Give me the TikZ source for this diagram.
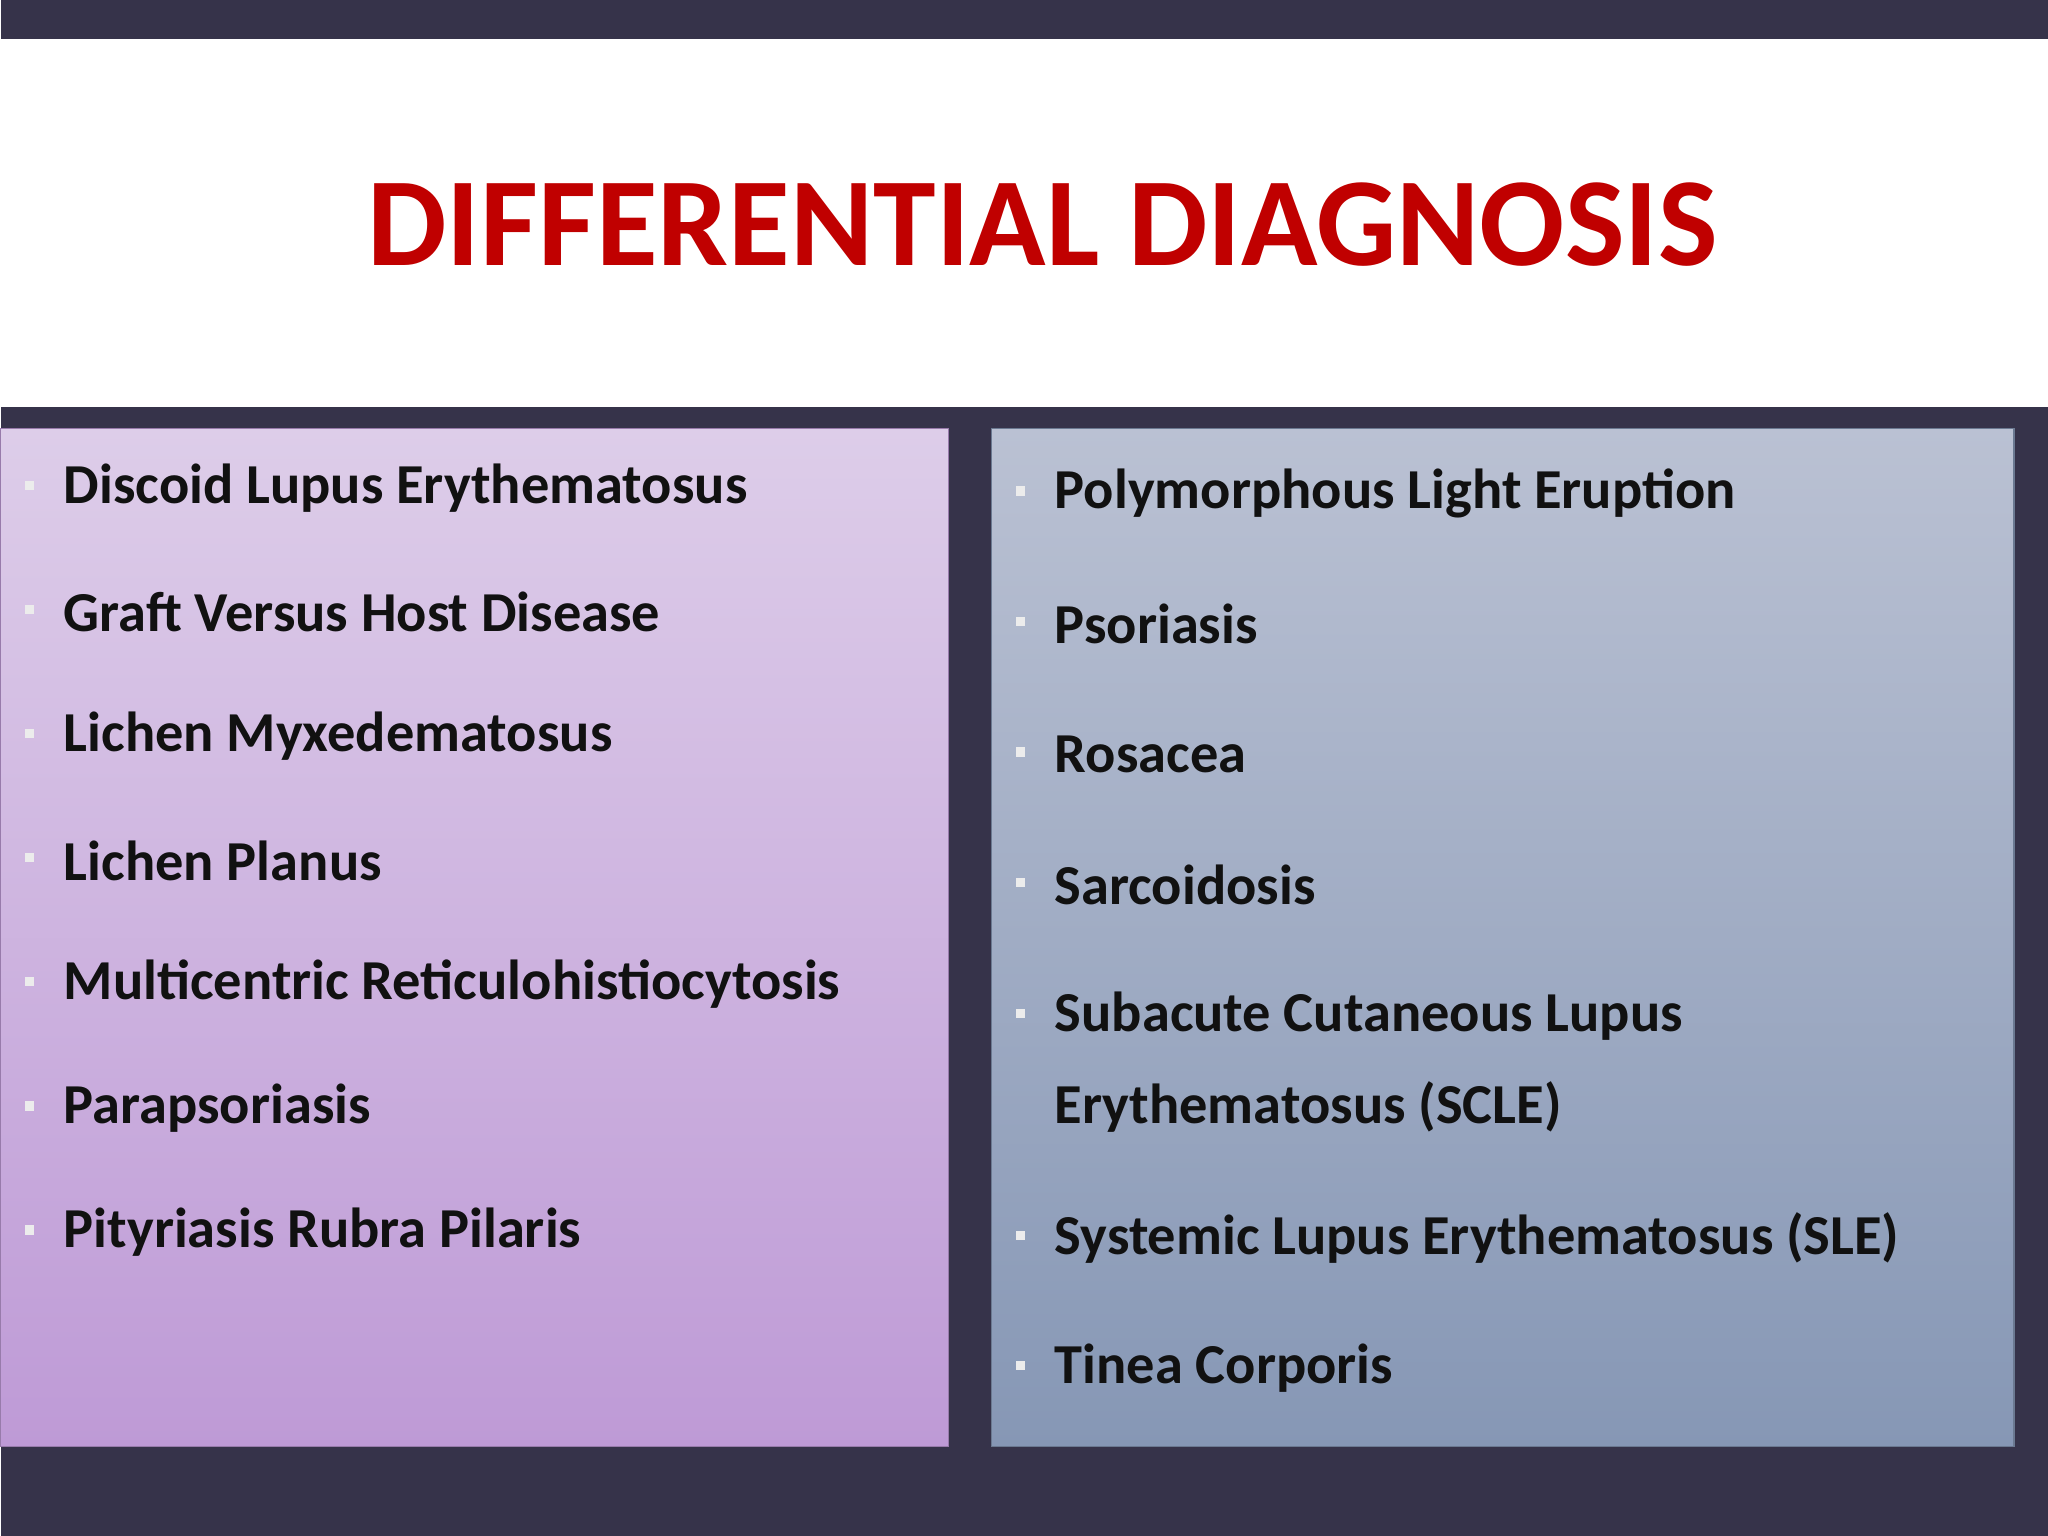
\documentclass[tikz,border=0pt]{standalone}
\usepackage{fontspec}
\setmainfont{Carlito}
\definecolor{dark}{HTML}{36334A}
\definecolor{ttl}{HTML}{C00000}
\definecolor{ltop}{HTML}{DDCDE9}
\definecolor{lbot}{HTML}{BE9AD6}
\definecolor{rtop}{HTML}{BAC1D3}
\definecolor{rbot}{HTML}{8697B5}
\definecolor{txt}{HTML}{111111}
\begin{document}
\begin{tikzpicture}[x=0.02cm,y=-0.02cm,
  item/.style={anchor=west,inner sep=0pt,font=\fontsize{24.6}{28}\selectfont\bfseries,text=txt},
  bul/.style={fill=white!85!gray,minimum size=4pt,inner sep=0pt}]
\fill[dark] (0,0) rectangle (1568,1176);
\fill[white] (0,30) rectangle (1568,312);
\node[font=\fontsize{55}{60}\selectfont\bfseries,text=ttl] (title) at (798,172) {DIFFERENTIAL DIAGNOSIS};
\shade[top color=ltop,bottom color=lbot,draw=lbot!80!black,line width=0.6pt] (0,328) rectangle (726,1108);
\shade[top color=rtop,bottom color=rbot,draw=rbot!80!black,line width=0.6pt] (759,328) rectangle (1542,1108);
\foreach \t [count=\i] in {Discoid Lupus Erythematosus,Graft Versus Host Disease,Lichen Myxedematosus,Lichen Planus,Multicentric Reticulohistiocytosis,Parapsoriasis,Pityriasis Rubra Pilaris}{
  \node[bul] (lb\i) at (22,{372+95*(\i-1)}) {};
  \node[item] (l\i) at (48,{374+95*(\i-1)}) {\t};
}
\foreach \t/\y [count=\i] in {Polymorphous Light Eruption/378,Psoriasis/478,Rosacea/578,Sarcoidosis/678,Subacute Cutaneous Lupus/778,Systemic Lupus Erythematosus (SLE)/948,Tinea Corporis/1048}{
  \node[bul] (rb\i) at (781,\y-2) {};
  \node[item] (r\i) at (807,\y) {\t};
}
\node[item] (r5b) at (807,848) {Erythematosus (SCLE)};
\end{tikzpicture}
\end{document}
